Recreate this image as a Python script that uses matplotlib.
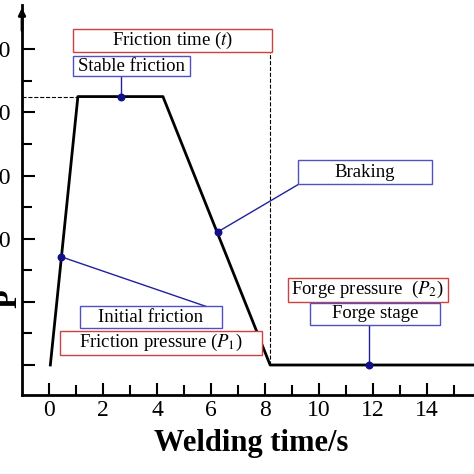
import matplotlib
matplotlib.use("Agg")
import matplotlib.pyplot as plt
from matplotlib.patches import Rectangle

plt.rcParams['font.family'] = ['Liberation Serif', 'DejaVu Serif']
plt.rcParams['mathtext.fontset'] = 'stix'

curve_x = [0.05, 1.07, 4.22, 8.19, 16.5]
curve_y = [0, 85, 85, 0, 0]
dots_x = [0.44, 2.67, 6.26, 11.85]
dots_y = [34.3, 85, 42.2, 0]
xticks = [0, 2, 4, 6, 8, 10, 12, 14]
yticks = [0, 20, 40, 60, 80, 100]
ytick_labels = ['', '', '40', '60', '80', '100']

W = 474
fig = plt.figure(figsize=(4.74, 4.74), dpi=100)
ax = fig.add_axes([22/W, (W-395)/W, 459/W, 390/W])
ax.set_xlim(-1, 16)
ax.set_ylim(-9.5, 114)
for s in ['top', 'right']:
    ax.spines[s].set_visible(False)
ax.spines['left'].set_linewidth(2)
ax.spines['bottom'].set_linewidth(2)
ax.set_xticks(xticks)
ax.set_xticks(range(0, 16), minor=True)
ax.set_yticks(yticks)
ax.set_yticks(range(0, 101, 10), minor=True)
ax.set_yticklabels(ytick_labels)
ax.tick_params(which='both', direction='in', width=1.5, labelsize=17)
ax.tick_params(which='major', length=9)
ax.tick_params(which='minor', length=7)
ax.tick_params(axis='y', pad=8)
ax.annotate('', xy=(-1, 114), xytext=(-1, 105), arrowprops=dict(arrowstyle='-|>', color='black', lw=2), annotation_clip=False)

ax.plot(curve_x, curve_y, color='black', lw=2, clip_on=False)
ax.plot([-1, 1.07], [85, 85], 'k--', lw=0.8)
ax.plot([8.19, 8.19], [0, 100.6], 'k--', lw=0.8)

def box(cx, cy, w, h, text, ec):
    ax.add_patch(Rectangle((cx - w/2, cy - h/2), w, h, fill=True, fc='white', ec=ec, lw=1, zorder=3))
    ax.text(cx, cy, text, ha='center', va='center', fontsize=13.5, zorder=4)

ax.plot([dots_x[0], 5.8], [dots_y[0], 18.6], color='#2020a0', lw=1)
ax.plot([dots_x[1], dots_x[1]], [dots_y[1], 91.4], color='#2020a0', lw=1)
ax.plot([dots_x[2], 9.22], [dots_y[2], 57.1], color='#2020a0', lw=1)
ax.plot([dots_x[3], dots_x[3]], [dots_y[3], 12.7], color='#2020a0', lw=1)
ax.scatter(dots_x, dots_y, color='#10108a', s=22, zorder=5, clip_on=False)

box(4.56, 102.9, 7.37, 7.3, 'Friction time ($t$)', '#d04040')
box(3.04, 94.6, 4.33, 6.3, 'Stable friction', '#5050c0')
box(11.7, 61.0, 4.96, 7.6, 'Braking', '#5050c0')
box(3.78, 15.2, 5.26, 6.7, 'Initial friction', '#5050c0')
box(4.15, 7.0, 7.48, 7.6, 'Friction pressure ($P_1$)', '#d04040')
box(11.8, 23.8, 5.93, 7.6, 'Forge pressure  ($P_2$)', '#d04040')
box(12.07, 16.2, 4.81, 7.0, 'Forge stage', '#5050c0')

ax.set_xlabel('Welding time/s', fontsize=22, fontweight='bold', labelpad=6)
fig.text(-0.012, 0.37, 'P', fontsize=22, fontweight='bold', rotation=90, va='center')

fig.savefig('out.png', dpi=100)
